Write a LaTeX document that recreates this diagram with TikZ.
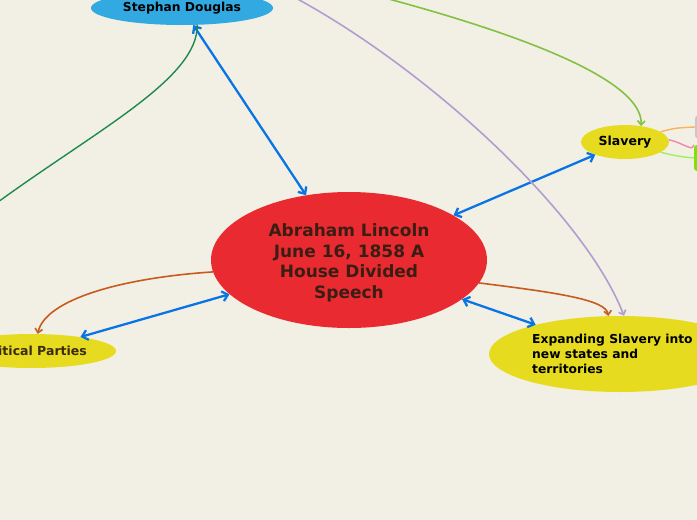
\documentclass[tikz,border=0pt]{standalone}
\usepackage{fontspec}
\setmainfont{DejaVu Sans}
\usetikzlibrary{shapes.geometric,arrows.meta}
\definecolor{bg}{HTML}{F2F0E4}
\definecolor{redc}{HTML}{EA2A31}
\definecolor{yel}{HTML}{E6DB1E}
\definecolor{bluen}{HTML}{33A9E1}
\definecolor{arrb}{HTML}{0B74E5}
\definecolor{brownc}{HTML}{C75A1E}
\definecolor{purp}{HTML}{B39CD0}
\definecolor{lime}{HTML}{84C044}
\definecolor{dgreen}{HTML}{1E8A4C}
\definecolor{ctext}{HTML}{3A1E14}
\definecolor{ptext}{HTML}{3A2A0E}
\definecolor{oran}{HTML}{F9B35A}
\definecolor{pinkc}{HTML}{F285A8}
\definecolor{lgreen}{HTML}{9EF25A}
\definecolor{greyn}{HTML}{C8C8C8}
\definecolor{greenn}{HTML}{7EE10A}
\begin{document}
\begin{tikzpicture}[x=1pt,y=-1pt,
  topic/.style={ellipse,inner sep=0pt,font=\bfseries},
  rel/.style={draw=arrb,line width=2.3pt,{Straight Barb[length=5.5pt,width=10pt]}-{Straight Barb[length=5.5pt,width=10pt]}},
  thin/.style={line width=1.6pt,-{Straight Barb[length=4pt,width=7.5pt]}},
  plain/.style={line width=1.4pt}]
\useasboundingbox (0,0) rectangle (697,520);
\clip (0,0) rectangle (697,520);
\fill[bg] (0,0) rectangle (697,520);
% nodes
\node[topic,fill=redc,minimum width=276pt,minimum height=136pt,text=ctext,align=center,
  font=\bfseries\fontsize{17}{20.5}\selectfont] (c) at (349,260)
  {\rule{0pt}{19pt}Abraham Lincoln\\June 16, 1858 A\\House Divided\\Speech};
\node[topic,fill=bluen,minimum width=182pt,minimum height=34pt,
  font=\bfseries\fontsize{12.3}{14}\selectfont] (d) at (182,8) {Stephan Douglas};
\node[topic,fill=yel,minimum width=88pt,minimum height=34pt,
  font=\bfseries\fontsize{12.5}{14}\selectfont] (s) at (625,142) {Slavery};
\node[topic,fill=yel,minimum width=169pt,minimum height=34pt,text=ptext,
  font=\bfseries\fontsize{12.5}{14}\selectfont] (p) at (31.5,351) {Political Parties};
\node[topic,fill=yel,minimum width=262pt,minimum height=76pt] (e) at (620,354) {};
\node[align=left,inner sep=0pt,anchor=west,
  font=\bfseries\fontsize{12.3}{15}\selectfont] (et) at (532,354)
  {Expanding Slavery into\\new states and\\territories};
\node[fill=greyn,rounded corners=3pt,minimum width=30pt,minimum height=23pt,inner sep=0pt] (g) at (710,127) {};
\node[fill=greenn,rounded corners=3pt,minimum width=30pt,minimum height=26pt,inner sep=0pt] (h) at (709,158) {};
% free ends
\coordinate (pstart) at (292,-4);
\coordinate (lstart) at (385,-2);
\coordinate (gstart) at (-2,202);
% connectors
\draw[rel] (c) -- (d);
\draw[rel] (c) -- (s);
\draw[rel] (c) -- (p);
\draw[rel] (c) -- (e);
\draw[thin,brownc] (c.185) .. controls (120,278) and (45,300) .. (p.70);
\draw[thin,brownc] (c.-10) .. controls (560,293) and (606,300) .. (e.107);
\draw[thin,purp] (pstart) .. controls (430,70) and (585,215) .. (e.84);
\draw[thin,lime] (lstart) .. controls (560,45) and (643,88) .. (s.45);
\draw[plain,dgreen] (gstart) .. controls (100,128) and (198,78) .. (d.-48);
\draw[plain,oran] (s.16) .. controls (675,128) .. (g.west);
\draw[plain,pinkc] (s.3) .. controls (686,144) and (692,152) .. (h.north west);
\draw[plain,lgreen] (s.-16) .. controls (676,156) .. (h.west);
\end{tikzpicture}
\end{document}
